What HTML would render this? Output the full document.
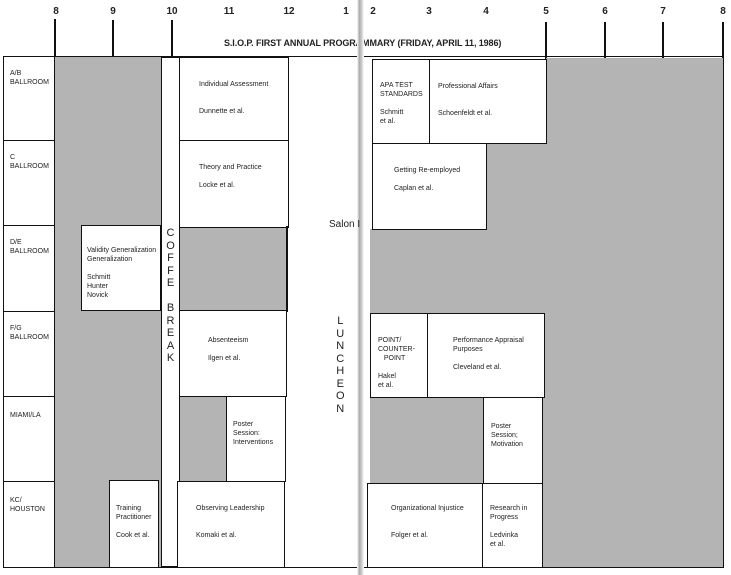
<!DOCTYPE html>
<html><head><style>
body{margin:0;width:731px;height:575px;background:#fff;position:relative;overflow:hidden;font-family:"Liberation Sans",sans-serif;color:#222}
.a{position:absolute;box-sizing:border-box}
.g{position:absolute;background:#b4b4b4}
.b{position:absolute;box-sizing:border-box;border:1.5px solid #111;background:#fff;font-size:7px;line-height:9px;padding:0}
.t{position:absolute;font-size:7px;line-height:9px}
.n{position:absolute;top:6px;font-size:10px;font-weight:bold;transform:translateX(-50%)}
.k{position:absolute;width:2px;background:#111}
</style></head><body>
<div class="n" style="left:56px">8</div><div class="n" style="left:113px">9</div><div class="n" style="left:172px">10</div><div class="n" style="left:229px">11</div><div class="n" style="left:289px">12</div><div class="n" style="left:346px">1</div><div class="n" style="left:373px">2</div><div class="n" style="left:429px">3</div><div class="n" style="left:486px">4</div><div class="n" style="left:546px">5</div><div class="n" style="left:605px">6</div><div class="n" style="left:663px">7</div><div class="n" style="left:723px">8</div>
<div class="k" style="left:54px;top:19px;height:38px"></div><div class="k" style="left:112px;top:20px;height:37px"></div><div class="k" style="left:171px;top:20px;height:37px"></div>
<div class="k" style="left:545px;top:22px;height:38px"></div><div class="k" style="left:604px;top:22px;height:38px"></div><div class="k" style="left:662px;top:22px;height:38px"></div><div class="k" style="left:722px;top:22px;height:38px"></div>
<div class="a" style="left:224px;top:38px;font-size:9px;font-weight:bold;white-space:nowrap;letter-spacing:-0.1px">S.I.O.P. FIRST ANNUAL PROGRAMMARY (FRIDAY, APRIL 11, 1986)</div>
<div class="a" style="left:3px;top:56px;width:721px;height:512px;border:1.5px solid #111"></div>
<div class="g" style="left:54px;top:57px;width:108px;height:510px"></div>
<div class="g" style="left:180px;top:227px;width:108px;height:84px"></div>
<div class="g" style="left:180px;top:396px;width:47px;height:85px"></div>
<div class="g" style="left:370px;top:229px;width:353px;height:338px"></div>
<div class="g" style="left:486px;top:144px;width:237px;height:90px"></div>
<div class="g" style="left:546px;top:58px;width:177px;height:90px"></div>
<div class="a" style="left:357px;top:0;width:7px;height:575px;background:linear-gradient(90deg,#fff,#aaa,#ccc,#fff)"></div>
<div class="b" style="left:3px;top:56px;width:52px;height:85px"><div class="t" style="left:6px;top:12px">A/B<br>BALLROOM</div></div>
<div class="b" style="left:3px;top:140px;width:52px;height:86px"><div class="t" style="left:6px;top:12px">C<br>BALLROOM</div></div>
<div class="b" style="left:3px;top:225px;width:52px;height:87px"><div class="t" style="left:6px;top:12px">D/E<br>BALLROOM</div></div>
<div class="b" style="left:3px;top:311px;width:52px;height:86px"><div class="t" style="left:6px;top:12px">F/G<br>BALLROOM</div></div>
<div class="b" style="left:3px;top:396px;width:52px;height:86px"><div class="t" style="left:6px;top:14px">MIAMI/LA</div></div>
<div class="b" style="left:3px;top:481px;width:52px;height:87px"><div class="t" style="left:6px;top:14px">KC/<br>HOUSTON</div></div>
<div class="b" style="left:81px;top:225px;width:80px;height:86px"><div class="t" style="left:5px;top:20px">Validity Generalization<br>Generalization<br><br>Schmitt<br>Hunter<br>Novick</div></div>
<div class="b" style="left:109px;top:480px;width:50px;height:88px"><div class="t" style="left:6px;top:23px">Training<br>Practitioner<br><br>Cook et al.</div></div>
<div class="b" style="left:161px;top:57px;width:19px;height:510px;font-size:11px;line-height:12.5px;text-align:center"><div style="position:absolute;left:0;right:0;top:169px">C<br>O<br>F<br>F<br>E<br><br>B<br>R<br>E<br>A<br>K</div></div>
<div class="b" style="left:179px;top:57px;width:110px;height:84px"><div class="t" style="left:19px;top:22px">Individual Assessment<br><br><br>Dunnette et al.</div></div>
<div class="b" style="left:179px;top:140px;width:110px;height:88px"><div class="t" style="left:19px;top:22px">Theory and Practice<br><br>Locke et al.</div></div>
<div class="b" style="left:179px;top:310px;width:108px;height:87px"><div class="t" style="left:28px;top:25px">Absenteeism<br><br>Ilgen et al.</div></div>
<div class="b" style="left:226px;top:396px;width:60px;height:86px"><div class="t" style="left:6px;top:23px">Poster<br>Session:<br>Interventions</div></div>
<div class="b" style="left:177px;top:481px;width:108px;height:87px"><div class="t" style="left:18px;top:22px">Observing Leadership<br><br><br>Komaki et al.</div></div>
<div class="a" style="left:286px;top:226px;width:2px;height:86px;background:#111"></div>
<div class="a" style="left:329px;top:219px;font-size:10px">Salon I</div>
<div class="a" style="left:336px;top:315px;font-size:11px;line-height:12.5px;text-align:center">L<br>U<br>N<br>C<br>H<br>E<br>O<br>N</div>
<div class="b" style="left:372px;top:59px;width:58px;height:86px"><div class="t" style="left:7px;top:21px">APA TEST<br>STANDARDS<br><br>Schmitt<br>et al.</div></div>
<div class="b" style="left:429px;top:59px;width:118px;height:85px"><div class="t" style="left:8px;top:22px">Professional Affairs<br><br><br>Schoenfeldt et al.</div></div>
<div class="b" style="left:372px;top:143px;width:115px;height:87px"><div class="t" style="left:21px;top:22px">Getting Re-employed<br><br>Caplan et al.</div></div>
<div class="b" style="left:370px;top:313px;width:58px;height:85px"><div class="t" style="left:7px;top:22px">POINT/<br>COUNTER-<br>&nbsp;&nbsp;&nbsp;POINT<br><br>Hakel<br>et al.</div></div>
<div class="b" style="left:427px;top:313px;width:118px;height:85px"><div class="t" style="left:25px;top:22px">Performance Appraisal<br>Purposes<br><br>Cleveland et al.</div></div>
<div class="b" style="left:483px;top:397px;width:60px;height:87px"><div class="t" style="left:7px;top:24px">Poster<br>Session;<br>Motivation</div></div>
<div class="b" style="left:367px;top:483px;width:117px;height:85px"><div class="t" style="left:23px;top:20px">Organizational Injustice<br><br><br>Folger et al.</div></div>
<div class="b" style="left:482px;top:483px;width:61px;height:85px"><div class="t" style="left:7px;top:20px">Research in<br>Progress<br><br>Ledvinka<br>et al.</div></div>
</body></html>
